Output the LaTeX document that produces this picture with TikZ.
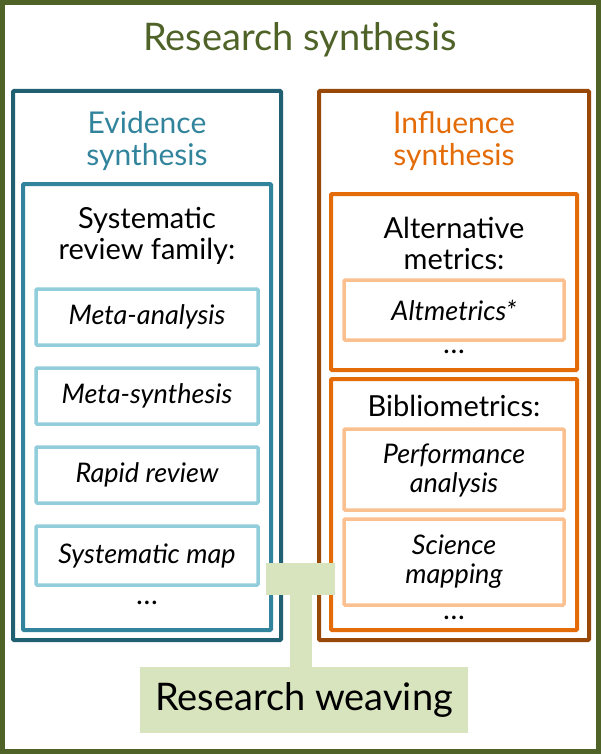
\documentclass[tikz,border=0pt]{standalone}
\usepackage{fontspec}
\setmainfont{Lato}
\definecolor{olive}{HTML}{4F6228}
\definecolor{dteal}{HTML}{215F73}
\definecolor{mteal}{HTML}{31849B}
\definecolor{lblue}{HTML}{92CDDC}
\definecolor{dorange}{HTML}{984807}
\definecolor{morange}{HTML}{E36C09}
\definecolor{lorange}{HTML}{FAC090}
\definecolor{lgreen}{HTML}{D7E4BD}
\begin{document}
\begin{tikzpicture}[x=1pt,y=-1pt,
  box/.style={draw,line width=4pt,rounded corners=1pt},
  sub/.style={box,line width=3.5pt},
  lbl/.style={font=\fontsize{29}{31}\selectfont,align=center},
  it/.style={font=\fontsize{27}{29}\selectfont\itshape,align=center},
  hd/.style={font=\fontsize{30}{32}\selectfont,align=center}]
\useasboundingbox (0,0) rectangle (601,754);
\draw[olive,line width=5pt] (2.5,2.5) rectangle (598.5,751.5);
\node[olive,font=\fontsize{38}{40}\selectfont] (t) at (300,40) {Research synthesis};
% evidence
\draw[box,dteal] (13,91) rectangle (281,640);
\node[hd,mteal] (es) at (147,141) {Evidence\\synthesis};
\draw[box,mteal] (23,184) rectangle (271,630);
\node[lbl] (srf) at (147,236) {Systematic\\review family:};
\foreach \n/\t/\a/\b in {ma/Meta-analysis/289/345, ms/Meta-synthesis/368/424, rr/Rapid review/447/503, sm/Systematic map/526/585}{
  \draw[sub,lblue] (36,\a) rectangle (258,\b);
  \node[it] (\n) at (147,{(\a+\b)/2}) {\t};
}
\node[lbl] (ed) at (147,603) {\dots};
% influence
\draw[box,dorange] (319,91) rectangle (589,640);
\node[hd,morange] (is) at (454,141) {Influence\\synthesis};
\draw[box,morange] (331,194) rectangle (577,370);
\node[lbl] (am) at (454,243) {Alternative\\metrics:};
\draw[sub,lorange] (344,280) rectangle (564,340);
\node[it] (alt) at (454,310) {Altmetrics*};
\node[lbl] (ad) at (454,352) {\dots};
\draw[box,morange] (331,379) rectangle (577,630);
\node[lbl] (bm) at (454,406) {Bibliometrics:};
\draw[sub,lorange] (344,429) rectangle (564,510);
\node[it] (pa) at (454,470) {Performance\\analysis};
\draw[sub,lorange] (344,519) rectangle (564,605);
\node[it] (sci) at (454,562) {Science\\mapping};
\node[lbl] (bd) at (454,618) {\dots};
% weaving
\fill[lgreen] (266,563) rectangle (335,595);
\fill[lgreen] (290,595) rectangle (312,668);
\node[fill=lgreen,minimum width=328pt,minimum height=66pt,font=\fontsize{38}{40}\selectfont] (rw) at (304,700) {Research weaving};
\end{tikzpicture}
\end{document}
